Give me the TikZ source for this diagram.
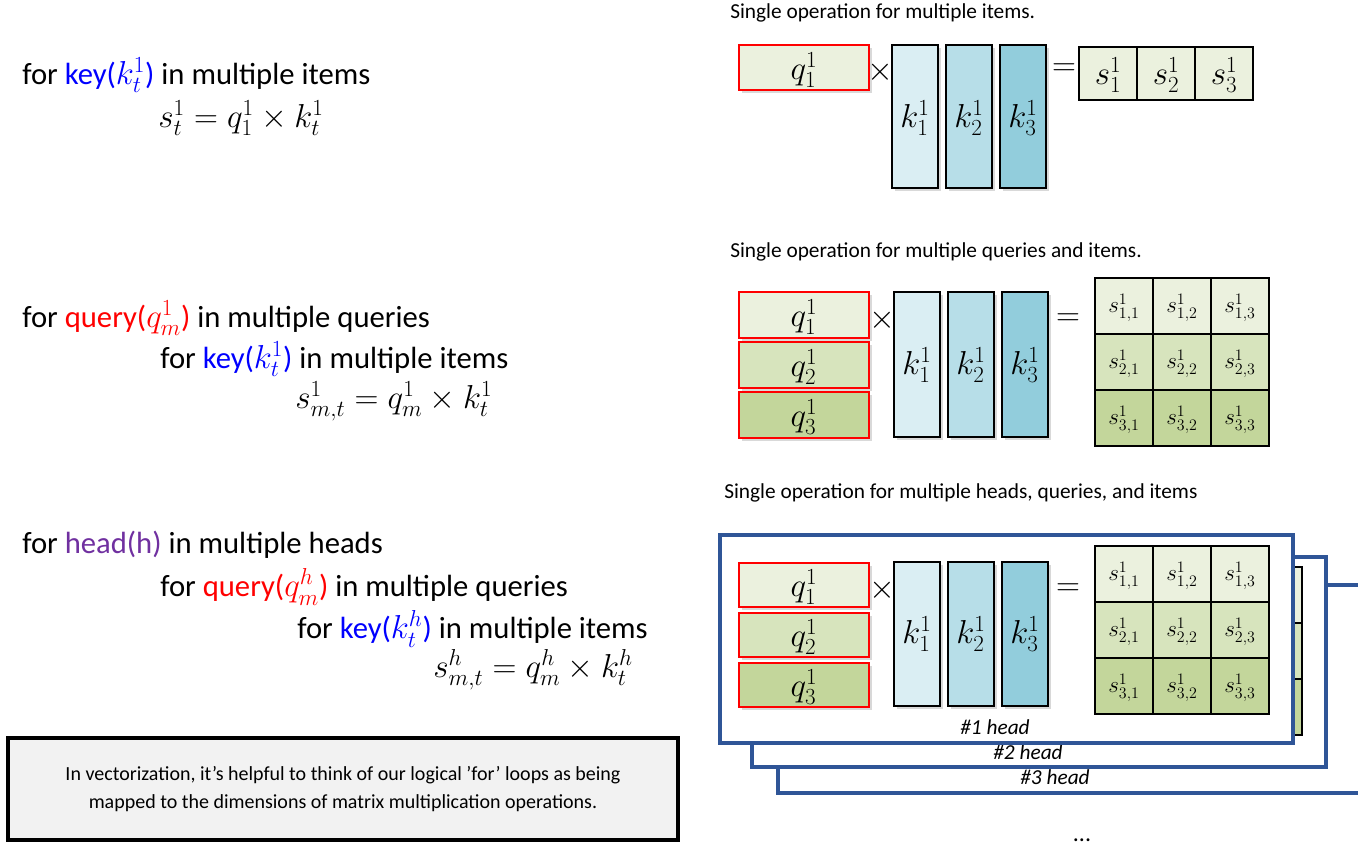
\documentclass[tikz,border=0pt]{standalone}
\usepackage{fontspec}
\setmainfont{Carlito}
\usepackage{amsmath}
\usetikzlibrary{shadows}
\definecolor{qa}{HTML}{EBF1DE}
\definecolor{qb}{HTML}{D7E4BD}
\definecolor{qc}{HTML}{C3D69B}
\definecolor{ka}{HTML}{DAEEF3}
\definecolor{kb}{HTML}{B7DEE8}
\definecolor{kc}{HTML}{92CDDC}
\definecolor{pb}{HTML}{2F5597}
\definecolor{kblue}{HTML}{0000FF}
\definecolor{qred}{HTML}{FF0000}
\definecolor{hpur}{HTML}{7030A0}
\newcommand{\sq}{{\char"0027}}
\tikzset{
  px/.style={x=0.75pt,y=-0.75pt},
  qbox/.style={draw=qred,line width=1.5pt,drop shadow={opacity=0.3,shadow xshift=2pt,shadow yshift=-2pt}},
  kbox/.style={draw=black,line width=1.5pt,drop shadow={opacity=0.3,shadow xshift=2pt,shadow yshift=-2pt}},
  cell/.style={draw=black,line width=1pt},
  panel/.style={draw=pb,line width=2.5pt,fill=white},
  lbl/.style={font=\fontsize{23}{26}\selectfont,anchor=west,inner sep=0},
  captxt/.style={font=\fontsize{16}{19}\selectfont,anchor=west,inner sep=0},
  mt/.style={font=\fontsize{24}{26}\selectfont,inner sep=0},
  st/.style={font=\fontsize{17}{19}\selectfont,inner sep=0},
  hd/.style={font=\itshape\fontsize{16}{19}\selectfont,inner sep=0},
}
\begin{document}
\begin{tikzpicture}[px]
\useasboundingbox (0,0) rectangle (1358,855);
% left texts
\node[lbl] (l1) at (22,75) {for \textcolor{kblue}{key($k_t^1$)} in multiple items};
\node[lbl] (l2) at (158,118) {$s_t^1 = q_1^1 \times k_t^1$};
\node[lbl] (l3) at (22,318) {for \textcolor{qred}{query($q_m^1$)} in multiple queries};
\node[lbl] (l4) at (160,359) {for \textcolor{kblue}{key($k_t^1$)} in multiple items};
\node[lbl] (l5) at (295,401) {$s_{m,t}^1 = q_m^1 \times k_t^1$};
\node[lbl] (l6) at (22,545) {for \textcolor{hpur}{head(h)} in multiple heads};
\node[lbl] (l7) at (160,587) {for \textcolor{qred}{query($q_m^h$)} in multiple queries};
\node[lbl] (l8) at (297,629) {for \textcolor{kblue}{key($k_t^h$)} in multiple items};
\node[lbl] (l9) at (433,670) {$s_{m,t}^h = q_m^h \times k_t^h$};
\node[draw=black,line width=2.5pt,fill=black!5,minimum width=670*0.75pt,minimum height=102*0.75pt,align=center,font=\fontsize{15}{21}\selectfont] (note) at (343,789) {In vectorization, it\sq s helpful to think of our logical \sq for\sq\ loops as being\\mapped to the dimensions of matrix multiplication operations.};
% panel 1
\node[captxt] (c1) at (730,13) {Single operation for multiple items.};
\draw[qbox,fill=qa] (739,45) rectangle (869,90);
\node[mt] (q01) at (804,70) {$q_1^1$};
\node[mt] (x1) at (880,72) {$\times$};
\draw[kbox,fill=ka] (892,45) rectangle (938,188); \node[mt] (k01) at (915,118) {$k_1^1$};
\draw[kbox,fill=kb] (946,45) rectangle (992,188); \node[mt] (k02) at (969,118) {$k_2^1$};
\draw[kbox,fill=kc] (1000,45) rectangle (1046,188); \node[mt] (k03) at (1023,118) {$k_3^1$};
\node[mt] (e1) at (1064,70) {$=$};
\foreach \i in {0,1,2}{\draw[cell,fill=qa] (1079+58*\i,47) rectangle (1137+58*\i,100);}
\node[mt] (s01) at (1108,75) {$s_1^1$};
\node[mt] (s02) at (1166,75) {$s_2^1$};
\node[mt] (s03) at (1224,75) {$s_3^1$};
% panel 2
\node[captxt] (c2) at (730,252) {Single operation for multiple queries and items.};
\foreach \c/\y/\n in {qa/292/1,qb/342/2,qc/392/3}{
  \draw[qbox,fill=\c] (739,\y) rectangle (869,\y+46);
  \node[mt] (q2\n) at (804,\y+25) {$q_\n^1$};}
\node[mt] (x2) at (882,320) {$\times$};
\foreach \c/\x/\n in {ka/894/1,kb/948/2,kc/1002/3}{
  \draw[kbox,fill=\c] (\x,292) rectangle (\x+46,437);
  \node[mt] (k2\n) at (\x+23,365) {$k_\n^1$};}
\node[mt] (e2) at (1068,320) {$=$};
\foreach \c/\r in {qa/1,qb/2,qc/3}{\foreach \j in {1,2,3}{
  \draw[cell,fill=\c] (1037+58*\j,222+56*\r) rectangle (1095+58*\j,278+56*\r);
  \node[st] (s2\r\j) at (1066+58*\j,252+56*\r) {$s_{\r,\j}^1$};}}
% panel 3
\node[captxt] (c3) at (724,493) {Single operation for multiple heads, queries, and items};
\draw[panel] (778,585) rectangle (1370,793);
\node[hd] (h3) at (1055,777) {\#3 head};
\draw[panel] (752,557) rectangle (1326,767);
\node[hd] (h2) at (1028,752) {\#2 head};
\foreach \c/\r in {qa/1,qb/2,qc/3}{\foreach \j in {1,2,3}{
  \draw[cell,fill=\c] (1070+58*\j,511+56*\r) rectangle (1128+58*\j,567+56*\r);}}
\draw[panel] (720,535) rectangle (1293,743);
\node[hd] (h1) at (995,727) {\#1 head};
\foreach \c/\y/\n in {qa/563/1,qb/613/2,qc/663/3}{
  \draw[qbox,fill=\c] (739,\y) rectangle (869,\y+44);
  \node[mt] (q3\n) at (804,\y+24) {$q_\n^1$};}
\node[mt] (x3) at (882,590) {$\times$};
\foreach \c/\x/\n in {ka/894/1,kb/948/2,kc/1002/3}{
  \draw[kbox,fill=\c] (\x,562) rectangle (\x+46,706);
  \node[mt] (k3\n) at (\x+23,634) {$k_\n^1$};}
\node[mt] (e3) at (1068,590) {$=$};
\foreach \c/\r in {qa/1,qb/2,qc/3}{\foreach \j in {1,2,3}{
  \draw[cell,fill=\c] (1037+58*\j,490+56*\r) rectangle (1095+58*\j,546+56*\r);
  \node[st] (s3\r\j) at (1066+58*\j,520+56*\r) {$s_{\r,\j}^1$};}}
\node[font=\fontsize{18}{20}\selectfont] (dots) at (1082,840) {...};
\end{tikzpicture}
\end{document}
